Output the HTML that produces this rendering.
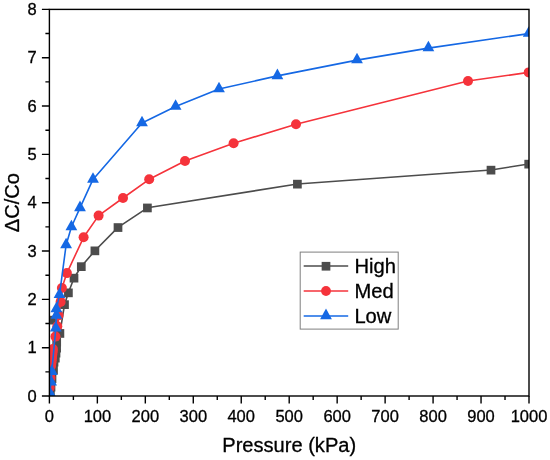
<!DOCTYPE html><html><head><meta charset="utf-8"><title>Chart</title><style>html,body{margin:0;padding:0;background:#fff}svg{display:block}text{font-family:"Liberation Sans",Arial,sans-serif;fill:#000;stroke:#000;stroke-width:0.3px}</style></head><body>
<svg width="550" height="460" viewBox="0 0 550 460">
<rect width="550" height="460" fill="#fff"/>
<defs><clipPath id="c"><rect x="49.4" y="9.4" width="479.6" height="386.6"/></clipPath></defs>
<g clip-path="url(#c)">
<polyline fill="none" stroke="#4c4c4c" stroke-width="1.6" stroke-linejoin="round" points="50.4,393.0 51.0,387.0 52.0,378.5 53.5,370.0 54.0,362.0 54.4,320.0 55.3,358.0 56.0,353.0 56.6,348.0 56.7,342.0 59.9,333.3 64.5,304.5 68.4,292.7 74.0,278.0 81.3,266.5 94.9,250.7 118.0,227.4 147.4,207.8 297.4,184.0 491.0,170.0 528.7,164.0"/>
<rect x="46.05" y="388.80" width="8.7" height="8.7" fill="#4c4c4c"/>
<rect x="46.65" y="382.80" width="8.7" height="8.7" fill="#4c4c4c"/>
<rect x="47.65" y="374.30" width="8.7" height="8.7" fill="#4c4c4c"/>
<rect x="49.15" y="365.80" width="8.7" height="8.7" fill="#4c4c4c"/>
<rect x="49.65" y="357.80" width="8.7" height="8.7" fill="#4c4c4c"/>
<rect x="50.05" y="315.80" width="8.7" height="8.7" fill="#4c4c4c"/>
<rect x="50.95" y="353.80" width="8.7" height="8.7" fill="#4c4c4c"/>
<rect x="51.65" y="348.80" width="8.7" height="8.7" fill="#4c4c4c"/>
<rect x="52.25" y="343.80" width="8.7" height="8.7" fill="#4c4c4c"/>
<rect x="52.35" y="337.80" width="8.7" height="8.7" fill="#4c4c4c"/>
<rect x="55.55" y="329.10" width="8.7" height="8.7" fill="#4c4c4c"/>
<rect x="60.15" y="300.30" width="8.7" height="8.7" fill="#4c4c4c"/>
<rect x="64.05" y="288.50" width="8.7" height="8.7" fill="#4c4c4c"/>
<rect x="69.65" y="273.80" width="8.7" height="8.7" fill="#4c4c4c"/>
<rect x="76.95" y="262.30" width="8.7" height="8.7" fill="#4c4c4c"/>
<rect x="90.55" y="246.50" width="8.7" height="8.7" fill="#4c4c4c"/>
<rect x="113.65" y="223.20" width="8.7" height="8.7" fill="#4c4c4c"/>
<rect x="143.05" y="203.60" width="8.7" height="8.7" fill="#4c4c4c"/>
<rect x="293.05" y="179.80" width="8.7" height="8.7" fill="#4c4c4c"/>
<rect x="486.65" y="165.80" width="8.7" height="8.7" fill="#4c4c4c"/>
<rect x="524.35" y="159.80" width="8.7" height="8.7" fill="#4c4c4c"/>
<polyline fill="none" stroke="#f5333b" stroke-width="1.6" stroke-linejoin="round" points="49.7,387.6 50.5,377.8 51.0,366.0 51.2,364.1 51.4,362.2 51.6,360.3 51.8,358.4 52.1,356.6 52.3,354.7 52.5,352.8 52.7,350.9 52.9,349.0 55.5,336.6 57.3,326.3 58.5,315.4 60.6,301.9 61.9,288.0 66.9,273.1 83.6,237.3 98.6,215.6 123.0,198.0 149.2,179.3 185.0,161.0 233.6,143.3 296.0,124.2 468.0,81.0 528.7,72.4"/>
<circle cx="49.70" cy="387.60" r="5.0" fill="#f5333b"/>
<circle cx="50.50" cy="377.80" r="5.0" fill="#f5333b"/>
<circle cx="51.00" cy="366.00" r="5.0" fill="#f5333b"/>
<circle cx="51.21" cy="364.11" r="5.0" fill="#f5333b"/>
<circle cx="51.42" cy="362.22" r="5.0" fill="#f5333b"/>
<circle cx="51.63" cy="360.33" r="5.0" fill="#f5333b"/>
<circle cx="51.84" cy="358.44" r="5.0" fill="#f5333b"/>
<circle cx="52.06" cy="356.56" r="5.0" fill="#f5333b"/>
<circle cx="52.27" cy="354.67" r="5.0" fill="#f5333b"/>
<circle cx="52.48" cy="352.78" r="5.0" fill="#f5333b"/>
<circle cx="52.69" cy="350.89" r="5.0" fill="#f5333b"/>
<circle cx="52.90" cy="349.00" r="5.0" fill="#f5333b"/>
<circle cx="55.45" cy="336.60" r="5.0" fill="#f5333b"/>
<circle cx="57.30" cy="326.30" r="5.0" fill="#f5333b"/>
<circle cx="58.50" cy="315.40" r="5.0" fill="#f5333b"/>
<circle cx="60.60" cy="301.90" r="5.0" fill="#f5333b"/>
<circle cx="61.90" cy="288.00" r="5.0" fill="#f5333b"/>
<circle cx="66.90" cy="273.10" r="5.0" fill="#f5333b"/>
<circle cx="83.60" cy="237.30" r="5.0" fill="#f5333b"/>
<circle cx="98.60" cy="215.60" r="5.0" fill="#f5333b"/>
<circle cx="123.00" cy="198.00" r="5.0" fill="#f5333b"/>
<circle cx="149.20" cy="179.30" r="5.0" fill="#f5333b"/>
<circle cx="185.00" cy="161.00" r="5.0" fill="#f5333b"/>
<circle cx="233.60" cy="143.30" r="5.0" fill="#f5333b"/>
<circle cx="296.00" cy="124.20" r="5.0" fill="#f5333b"/>
<circle cx="468.00" cy="81.00" r="5.0" fill="#f5333b"/>
<circle cx="528.70" cy="72.40" r="5.0" fill="#f5333b"/>
<polyline fill="none" stroke="#1568e4" stroke-width="1.6" stroke-linejoin="round" points="49.6,392.6 51.1,382.1 51.8,371.6 55.8,328.2 56.4,315.4 56.4,309.1 59.5,294.8 66.1,245.0 71.4,227.0 80.0,207.8 93.0,179.4 142.0,123.0 175.6,106.5 219.0,89.0 277.4,75.9 357.0,60.1 428.4,48.1 528.7,33.6"/>
<polygon points="49.60,385.35 43.70,395.95 55.50,395.95" fill="#1568e4"/>
<polygon points="51.10,374.85 45.20,385.45 57.00,385.45" fill="#1568e4"/>
<polygon points="51.80,364.35 45.90,374.95 57.70,374.95" fill="#1568e4"/>
<polygon points="55.80,320.95 49.90,331.55 61.70,331.55" fill="#1568e4"/>
<polygon points="56.40,308.15 50.50,318.75 62.30,318.75" fill="#1568e4"/>
<polygon points="56.40,301.75 50.50,312.35 62.30,312.35" fill="#1568e4"/>
<polygon points="59.50,287.45 53.60,298.05 65.40,298.05" fill="#1568e4"/>
<polygon points="66.10,237.75 60.20,248.35 72.00,248.35" fill="#1568e4"/>
<polygon points="71.40,219.75 65.50,230.35 77.30,230.35" fill="#1568e4"/>
<polygon points="80.00,200.55 74.10,211.15 85.90,211.15" fill="#1568e4"/>
<polygon points="93.00,172.15 87.10,182.75 98.90,182.75" fill="#1568e4"/>
<polygon points="142.00,115.75 136.10,126.35 147.90,126.35" fill="#1568e4"/>
<polygon points="175.60,99.15 169.70,109.75 181.50,109.75" fill="#1568e4"/>
<polygon points="219.00,81.75 213.10,92.35 224.90,92.35" fill="#1568e4"/>
<polygon points="277.40,68.55 271.50,79.15 283.30,79.15" fill="#1568e4"/>
<polygon points="357.00,52.75 351.10,63.35 362.90,63.35" fill="#1568e4"/>
<polygon points="428.40,40.75 422.50,51.35 434.30,51.35" fill="#1568e4"/>
<polygon points="528.70,26.25 522.80,36.85 534.60,36.85" fill="#1568e4"/>
</g>
<g stroke="#000" stroke-width="1.4" fill="none">
<rect x="49.4" y="9.4" width="479.6" height="386.6"/>
<path d="M49.40 396.0v7.5M73.38 396.0v4.0M97.36 396.0v7.5M121.34 396.0v4.0M145.32 396.0v7.5M169.30 396.0v4.0M193.28 396.0v7.5M217.26 396.0v4.0M241.24 396.0v7.5M265.22 396.0v4.0M289.20 396.0v7.5M313.18 396.0v4.0M337.16 396.0v7.5M361.14 396.0v4.0M385.12 396.0v7.5M409.10 396.0v4.0M433.08 396.0v7.5M457.06 396.0v4.0M481.04 396.0v7.5M505.02 396.0v4.0M529.00 396.0v7.5M49.4 396.00h-7.5M49.4 371.84h-4.0M49.4 347.68h-7.5M49.4 323.51h-4.0M49.4 299.35h-7.5M49.4 275.19h-4.0M49.4 251.02h-7.5M49.4 226.86h-4.0M49.4 202.70h-7.5M49.4 178.54h-4.0M49.4 154.38h-7.5M49.4 130.21h-4.0M49.4 106.05h-7.5M49.4 81.89h-4.0M49.4 57.72h-7.5M49.4 33.56h-4.0M49.4 9.40h-7.5"/>
</g>
<g font-size="16.5px">
<text x="49.4" y="422" text-anchor="middle">0</text>
<text x="97.4" y="422" text-anchor="middle">100</text>
<text x="145.3" y="422" text-anchor="middle">200</text>
<text x="193.3" y="422" text-anchor="middle">300</text>
<text x="241.2" y="422" text-anchor="middle">400</text>
<text x="289.2" y="422" text-anchor="middle">500</text>
<text x="337.2" y="422" text-anchor="middle">600</text>
<text x="385.1" y="422" text-anchor="middle">700</text>
<text x="433.1" y="422" text-anchor="middle">800</text>
<text x="481.0" y="422" text-anchor="middle">900</text>
<text x="529.0" y="422" text-anchor="middle">1000</text>
<text x="36.6" y="401.6" text-anchor="end">0</text>
<text x="36.6" y="353.3" text-anchor="end">1</text>
<text x="36.6" y="305.0" text-anchor="end">2</text>
<text x="36.6" y="256.6" text-anchor="end">3</text>
<text x="36.6" y="208.3" text-anchor="end">4</text>
<text x="36.6" y="160.0" text-anchor="end">5</text>
<text x="36.6" y="111.6" text-anchor="end">6</text>
<text x="36.6" y="63.3" text-anchor="end">7</text>
<text x="36.6" y="15.0" text-anchor="end">8</text>
</g>
<text transform="translate(222.3,452.4) scale(1.004,1)" font-size="20px">Pressure (kPa)</text>
<text transform="translate(19.4,202.7) rotate(-90)" text-anchor="middle" font-size="20px">ΔC/Co</text>
<rect x="300.2" y="252.1" width="98" height="77" fill="#fff" stroke="#7f7f7f" stroke-width="1"/>
<line x1="303.7" x2="348.2" y1="266.1" y2="266.1" stroke="#4c4c4c" stroke-width="1.5"/>
<rect x="321.65" y="261.90" width="8.7" height="8.7" fill="#4c4c4c"/>
<text transform="translate(354.4,273.1) scale(1.008,1)" font-size="20px">High</text>
<line x1="303.7" x2="348.2" y1="291.0" y2="291.0" stroke="#f5333b" stroke-width="1.5"/>
<circle cx="326.00" cy="291.00" r="4.9" fill="#f5333b"/>
<text transform="translate(354.4,297.9) scale(1.008,1)" font-size="20px">Med</text>
<line x1="303.7" x2="348.2" y1="315.9" y2="315.9" stroke="#1568e4" stroke-width="1.5"/>
<polygon points="326.00,308.60 320.10,319.20 331.90,319.20" fill="#1568e4"/>
<text transform="translate(354.4,322.6) scale(1.008,1)" font-size="20px">Low</text>
</svg></body></html>
